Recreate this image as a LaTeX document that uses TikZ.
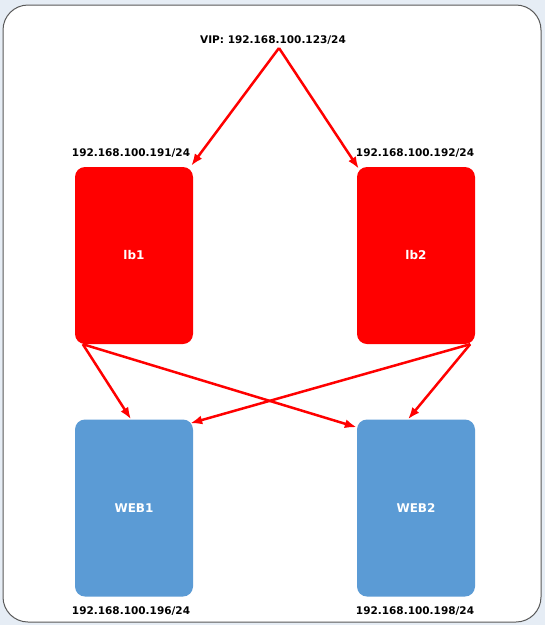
\documentclass[tikz,border=0pt]{standalone}
\usepackage{fontspec}
\setmainfont{DejaVu Sans}
\usetikzlibrary{arrows.meta}
\definecolor{bgblue}{HTML}{E6EDF5}
\definecolor{lbred}{HTML}{FF0000}
\definecolor{webblue}{HTML}{5B9BD5}
\tikzset{
	server/.style={rounded corners=10pt, minimum width=118pt, minimum height=177pt, text=white, font=\fontsize{12}{14}\selectfont\bfseries},
	lbbox/.style={server, fill=lbred},
	webbox/.style={server, fill=webblue},
	ip/.style={font=\fontsize{10.5}{12}\selectfont\bfseries, inner sep=1pt},
	link/.style={draw=lbred, line width=2.5pt, -{Latex[length=12pt,width=9pt]}}
}
\begin{document}
\begin{tikzpicture}[x=1pt,y=-1pt]
	    \fill[bgblue] (0,0) rectangle (545,625);
	    \draw[rounded corners=25pt, draw=black!65, fill=white, line width=1pt] (3,5) rectangle (541,622);
	    \node[ip] (vip) at (273,40) {VIP: 192.168.100.123/24};
	    \coordinate (apex) at (279,48);
	    \node[lbbox] (lb1) at (134,255.5) {lb1};
	    \node[lbbox] (lb2) at (416,255.5) {lb2};
	    \node[webbox] (web1) at (134,508) {WEB1};
	    \node[webbox] (web2) at (416,508) {WEB2};
	    \node[ip] (ip1) at (131,153) {192.168.100.191/24};
	    \node[ip] (ip2) at (415,153) {192.168.100.192/24};
	    \node[ip] (ip3) at (131,611) {192.168.100.196/24};
	    \node[ip] (ip4) at (415,611) {192.168.100.198/24};
	    \draw[link] (apex) -- ([xshift=-2pt,yshift=1pt]lb1.north east);
	    \draw[link] (apex) -- ([xshift=2pt,yshift=-2pt]lb2.north west);
	    \draw[link] ([xshift=8pt]lb1.south west) -- ([xshift=-3pt]web1.north);
	    \draw[link] ([xshift=8pt]lb1.south west) -- ([yshift=-8pt]web2.north west);
	    \draw[link] ([xshift=-5pt]lb2.south east) -- ([xshift=-3pt,yshift=-4pt]web1.north east);
	    \draw[link] ([xshift=-5pt]lb2.south east) -- ([xshift=-8pt]web2.north);
	\end{tikzpicture}
\end{document}
